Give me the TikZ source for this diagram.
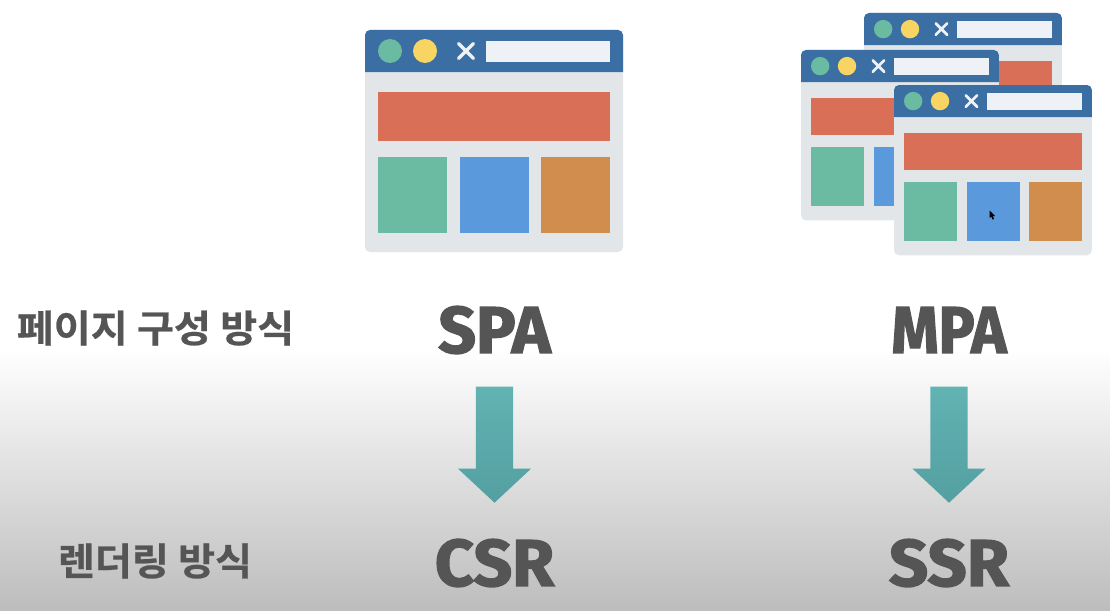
\documentclass[tikz,border=0pt]{standalone}
\usepackage{fontspec}
\newfontfamily\kofont[FakeBold=.6]{Noto Sans CJK KR Bold}
\newfontfamily\capfont[FakeBold=2]{Fira Sans Bold}
\usetikzlibrary{shapes.arrows}
\definecolor{barblue}{HTML}{3B6FA3}
\definecolor{paneground}{HTML}{E3E6E9}
\definecolor{fieldwhite}{HTML}{EEF1F5}
\definecolor{bandred}{HTML}{DA6F58}
\definecolor{boxgreen}{HTML}{6ABBA2}
\definecolor{boxblue}{HTML}{5A9ADC}
\definecolor{boxorange}{HTML}{D08D4E}
\definecolor{dotyellow}{HTML}{F8D463}
\definecolor{textgray}{HTML}{555555}
\definecolor{arrowtop}{HTML}{62B3B3}
\definecolor{arrowtip}{HTML}{549FA1}
\tikzset{
  browser/.pic={
    % window origin is its top left corner
    \fill[paneground,rounded corners=5pt] (0,0) rectangle (258,222);
    \fill[barblue] (0,42) [rounded corners=5pt] -- (0,0) -- (258,0) [sharp corners] -- (258,42) -- cycle;
    \fill[boxgreen] (25,21) circle (12);
    \fill[dotyellow] (60,21) circle (12);
    \draw[fieldwhite,line width=#1,line cap=round] (93.5,13.5) -- (108.5,28.5) (93.5,28.5) -- (108.5,13.5);
    \fill[fieldwhite] (121,11) rectangle (245,32);
    \fill[bandred] (13,62) rectangle (245,111);
    \fill[boxgreen] (13,127) rectangle (82,203);
    \fill[boxblue] (95,127) rectangle (164,203);
    \fill[boxorange] (176,127) rectangle (245,203);
  },
  heading/.style={text=textgray,inner sep=0pt,font=\kofont\fontsize{35}{35}\selectfont,xscale=1.15,yscale=1.08},
  acronym/.style={text=textgray,inner sep=0pt,font=\capfont\fontsize{66}{66}\selectfont},
  flowarrow/.style={shape=single arrow,draw=none,inner xsep=0pt,inner ysep=18.5pt,rotate=-90,
    minimum height=116pt,minimum width=73pt,single arrow head extend=18pt,
    single arrow tip angle=94,top color=arrowtop,bottom color=arrowtip},
}
\begin{document}
\begin{tikzpicture}[x=1pt,y=-1pt]
\useasboundingbox (0,0) rectangle (1110,610);
\fill[white] (0,0) rectangle (1110,350);
\shade[top color=white,bottom color=black!26] (0,350) rectangle (1110,610);
% windows
\pic at (365,30) {browser=3.5pt};
\pic[scale=.767] at (864,13) {browser=2.7pt};
\pic[scale=.767] at (801,50) {browser=2.7pt};
\pic[scale=.767] at (894,85) {browser=2.7pt};
\fill[black] (989.5,210.5) -- (989.5,218) -- (991.3,216.6) -- (992.6,219.6) -- (994,219) -- (992.8,216) -- (995,216) -- cycle;
% labels
\node[heading] (pagelabel) at (155.5,328) {페이지 구성 방식};
\node[heading] (renderlabel) at (155,561) {렌더링 방식};
\node[acronym] (spa) at (494.5,330) {SPA};
\node[acronym,xscale=.91] (mpa) at (949,330) {MPA};
\node[acronym,xscale=1.03] (csr) at (494.5,563) {CSR};
\node[acronym,xscale=1.04] (ssr) at (949,563) {SSR};
\node[flowarrow] (spaflow) at (494.5,436) {};
\node[flowarrow] (mpaflow) at (949,436) {};
\end{tikzpicture}
\end{document}
